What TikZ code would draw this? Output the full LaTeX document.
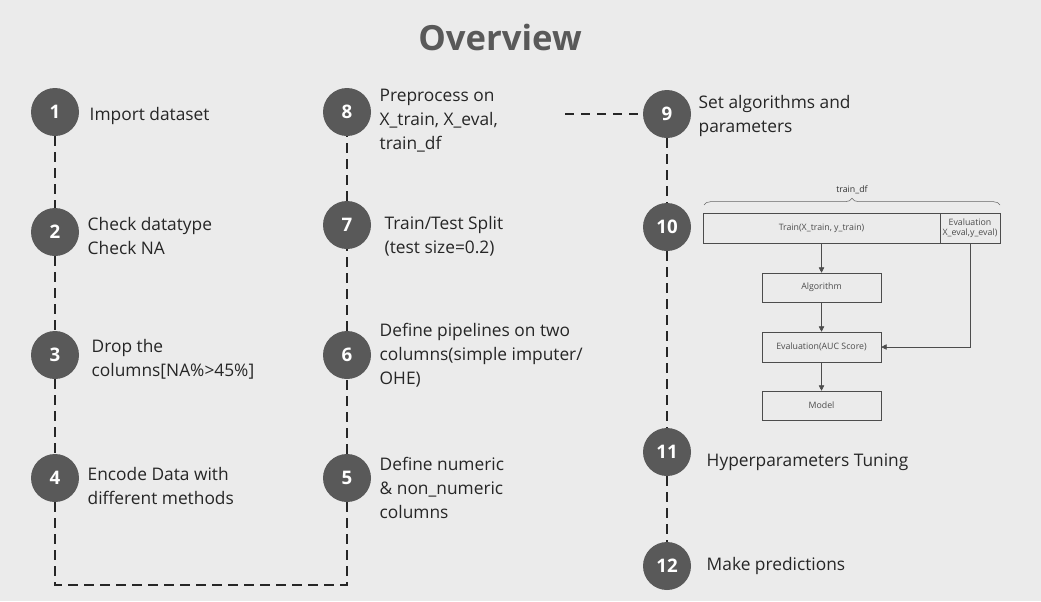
\documentclass[tikz,border=0pt]{standalone}
\usepackage{fontspec}
\setmainfont{Open Sans}
\usetikzlibrary{decorations.pathreplacing,arrows.meta}
\definecolor{bg}{HTML}{EBEBEB}
\definecolor{dk}{HTML}{595959}
\begin{document}
\begin{tikzpicture}[x=0.75pt,y=-0.75pt,
  num/.style={circle,fill=dk,minimum size=36pt,inner sep=0pt,text=white,font=\fontsize{14}{14}\selectfont\bfseries},
  lab/.style={anchor=west,align=left,font=\fontsize{13}{18}\selectfont,text=black!85},
  dl/.style={dashed,dash pattern=on 7pt off 5pt,line width=1.1pt,black!85},
  bx/.style={draw,black!70,fill=bg,font=\fontsize{6.6}{7.5}\selectfont,inner sep=0pt},
  ar/.style={-{Triangle[length=4pt,width=4pt]},black!70}]
\fill[bg] (0,0) rectangle (1041,601);
\useasboundingbox (0,0) rectangle (1041,601);
\node[font=\fontsize{26}{30}\selectfont\bfseries,text=dk] (title) at (500,37) {Overview};
\node[num] (n1) at (55,112) {1};
\node[num] (n2) at (55,232) {2};
\node[num] (n3) at (55,355) {3};
\node[num] (n4) at (55,478) {4};
\node[num] (n5) at (347,478) {5};
\node[num] (n6) at (347,355) {6};
\node[num] (n7) at (347,225) {7};
\node[num] (n8) at (347,112) {8};
\node[num] (n9) at (667,114) {9};
\node[num] (n10) at (667,227) {10};
\node[num] (n11) at (667,452) {11};
\node[num] (n12) at (667,566) {12};
\coordinate (c1) at (55,585);
\coordinate (c2) at (347,585);
\coordinate (c3) at (565,114);
\draw[dl] (n1) -- (n2); \draw[dl] (n2) -- (n3); \draw[dl] (n3) -- (n4);
\draw[dl] (n4) -- (c1) -- (c2) -- (n5);
\draw[dl] (n5) -- (n6); \draw[dl] (n6) -- (n7); \draw[dl] (n7) -- (n8);
\draw[dl] (c3) -- (n9);
\draw[dl] (n9) -- (n10); \draw[dl] (n10) -- (n11); \draw[dl] (n11) -- (n12);
\node[lab] (t1) at (85,116) {Import dataset};
\node[lab] (t2) at (83,236) {Check datatype\\Check NA};
\node[lab] (t3) at (87,359) {Drop the\\columns[NA\%>45\%]};
\node[lab] (t4) at (83,486) {Encode Data with\\different methods};
\node[lab] (t5) at (375,488) {Define numeric\\\& non\_numeric\\columns};
\node[lab] (t6) at (375,355) {Define pipelines on two\\columns(simple imputer/\\OHE)};
\node[lab] (t7) at (380,236) {Train/Test Split\\(test size=0.2)};
\node[lab] (t8) at (375,121) {Preprocess on\\X\_train, X\_eval,\\train\_df};
\node[lab] (t9) at (694,116) {Set algorithms and\\parameters};
\node[lab] (t11) at (702,462) {Hyperparameters Tuning};
\node[lab] (t12) at (702,566) {Make predictions};
\node[bx,minimum width=177.75pt,minimum height=22.5pt] (tr) at (821.5,228) {Train(X\_train, y\_train)};
\node[bx,minimum width=45pt,minimum height=22.5pt,align=center] (ev) at (970,228) {Evaluation\\X\_eval,y\_eval)};
\node[bx,minimum width=89.25pt,minimum height=21.75pt] (alg) at (821.5,287.5) {Algorithm};
\node[bx,minimum width=89.25pt,minimum height=22.5pt] (auc) at (821.5,347) {Evaluation(AUC Score)};
\node[bx,minimum width=89.25pt,minimum height=21.75pt] (mod) at (821.5,405.5) {Model};
\draw[decorate,decoration={brace,amplitude=5pt},black!60] (704,205) -- (1000,205) node[midway,above=5pt,font=\fontsize{6.6}{7.5}\selectfont,text=black!80] (tdf) {train\_df};
\draw[ar] (tr) -- (alg);
\draw[ar] (alg) -- (auc);
\draw[ar] (auc) -- (mod);
\draw[ar] (ev.south) |- (auc.east);
\end{tikzpicture}
\end{document}
